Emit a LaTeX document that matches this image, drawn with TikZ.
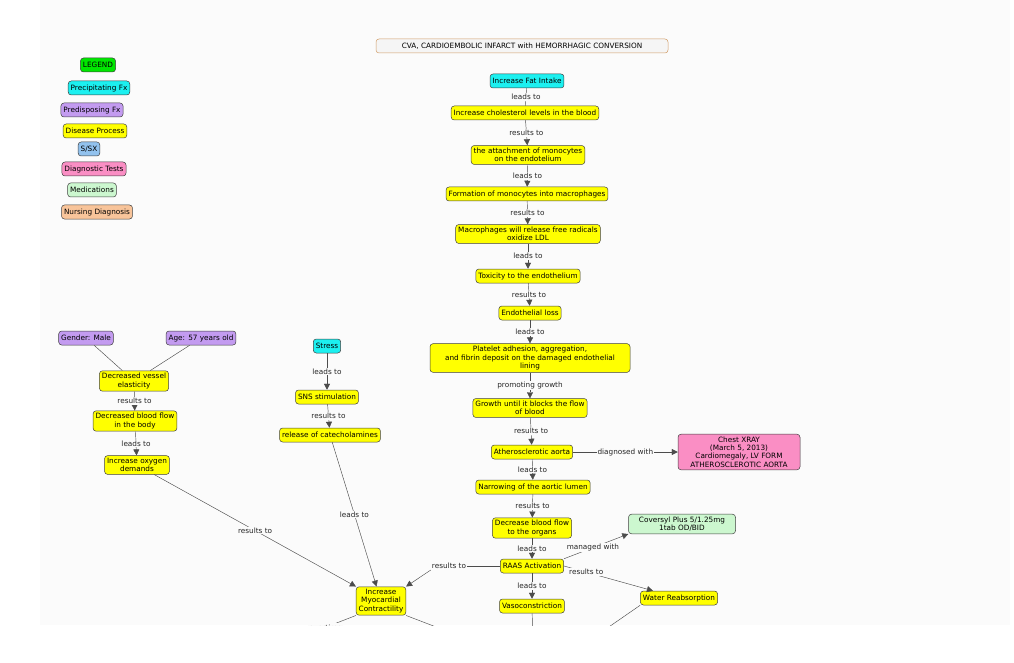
\documentclass[tikz,border=0pt]{standalone}
\usepackage{fontspec}
\setmainfont{DejaVu Sans}
\usetikzlibrary{arrows.meta}
\definecolor{bg}{HTML}{FBFBFB}
\definecolor{yel}{HTML}{FFFF00}
\definecolor{cyn}{HTML}{1CF0F0}
\definecolor{pur}{HTML}{C39BF0}
\definecolor{grn}{HTML}{00E600}
\definecolor{blu}{HTML}{92C2EE}
\definecolor{pnk}{HTML}{FA8EC4}
\definecolor{mgr}{HTML}{CCF7CF}
\definecolor{org}{HTML}{F8C49A}
\tikzset{
 box/.style={draw=black!75,rounded corners=3pt,font=\fontsize{7.3}{8.3}\selectfont,align=center,inner sep=2.5pt,minimum height=14pt,line width=0.5pt},
 dz/.style={box,fill=yel},
 lab/.style={fill=bg,font=\fontsize{7.3}{8.3}\selectfont,inner sep=1pt,text=black!85},
 ln/.style={draw=black!70,line width=0.45pt},
 ar/.style={ln,-{Triangle[length=6pt,width=6pt]}}
}
\begin{document}
\begin{tikzpicture}[x=1pt,y=-1pt]
\useasboundingbox (0,0) rectangle (1014,663);
\fill[white] (0,0) rectangle (1014,663);
\fill[bg] (40,0) rectangle (1010,625);
\begin{scope}
\clip (40,0) rectangle (1010,625);
\node[box,fill=black!4,draw=orange!70!black!60,minimum width=292pt] (title) at (522,46) {CVA, CARDIOEMBOLIC INFARCT with HEMORRHAGIC CONVERSION};
\node[box,fill=grn] (lg) at (98,65) {LEGEND};
\node[box,fill=cyn] (l1) at (99,88) {Precipitating Fx};
\node[box,fill=pur] (l2) at (92,110) {Predisposing Fx};
\node[box,fill=yel] (l3) at (95,131) {Disease Process};
\node[box,fill=blu] (l4) at (89,149) {S/SX};
\node[box,fill=pnk] (l5) at (94,169) {Diagnostic Tests};
\node[box,fill=mgr] (l6) at (92,190) {Medications};
\node[box,fill=org] (l7) at (97,212) {Nursing Diagnosis};
% main column
\node[box,fill=cyn] (fat) at (527,81) {Increase Fat Intake};
\node[dz] (chol) at (525,113) {Increase cholesterol levels in the blood};
\node[dz] (att) at (528,155) {the attachment of monocytes\\on the endotelium};
\node[dz] (form) at (527,194) {Formation of monocytes into macrophages};
\node[dz] (mac) at (528,234) {Macrophages will release free radicals\\oxidize LDL};
\node[dz] (tox) at (528,276) {Toxicity to the endothelium};
\node[dz] (endo) at (530,313) {Endothelial loss};
\node[dz,minimum width=200pt] (plat) at (530,358) {Platelet adhesion, aggregation,\\and fibrin deposit on the damaged endothelial\\lining};
\node[dz] (grow) at (530,408) {Growth until it blocks the flow\\of blood};
\node[dz] (aorta) at (532,452) {Atherosclerotic aorta};
\node[dz] (narr) at (533,487) {Narrowing of the aortic lumen};
\node[dz] (dec) at (532,528) {Decrease blood flow\\to the organs};
\node[dz] (raas) at (532,566) {RAAS Activation};
\node[dz] (vaso) at (532,606) {Vasoconstriction};
\node[box,fill=pnk,minimum width=122pt] (xray) at (739,452) {Chest XRAY\\(March 5, 2013)\\Cardiomegaly, LV FORM\\ATHEROSCLEROTIC AORTA};
\node[box,fill=mgr,minimum width=107pt] (cov) at (682,524) {Coversyl Plus 5/1.25mg\\1tab OD/BID};
\node[dz] (water) at (679,598) {Water Reabsorption};
% left
\node[box,fill=pur] (gen) at (86,338) {Gender: Male};
\node[box,fill=pur] (age) at (201,338) {Age: 57 years old};
\node[dz] (dve) at (134,381) {Decreased vessel\\elasticity};
\node[dz] (dbf) at (135,421) {Decreased blood flow\\in the body};
\node[dz] (iod) at (137,465) {Increase oxygen\\demands};
\node[box,fill=cyn] (str) at (327,346) {Stress};
\node[dz] (sns) at (327,397) {SNS stimulation};
\node[dz] (cat) at (330,435) {release of catecholamines};
\node[dz] (imc) at (381,601) {Increase\\Myocardial\\Contractility};
% edges
\draw[ln] (fat) -- node[lab]{leads to} (chol);
\draw[ar] (chol) -- node[lab]{results to} (att);
\draw[ar] (att) -- node[lab]{leads to} (form);
\draw[ar] (form) -- node[lab]{results to} (mac);
\draw[ar] (mac) -- node[lab]{leads to} (tox);
\draw[ar] (tox) -- node[lab]{results to} (endo);
\draw[ar] (endo) -- node[lab]{leads to} (plat);
\draw[ar] (plat) -- node[lab]{promoting growth} (grow);
\draw[ar] (grow) -- node[lab]{results to} (aorta);
\draw[ar] (aorta) -- node[lab]{leads to} (narr);
\draw[ar] (narr) -- node[lab]{results to} (dec);
\draw[ar] (dec) -- node[lab]{leads to} (raas);
\draw[ar] (raas) -- node[lab]{leads to} (vaso);
\draw[ar] (aorta) -- node[lab]{diagnosed with} (xray);
\draw[ar] (raas.north east) -- node[lab,pos=0.45]{managed with} (cov.south west);
\draw[ar] (raas.east) -- node[lab,pos=0.25]{results to} (water);
\node[lab] (rl) at (449,566) {results to};
\draw[ln] (raas.west) -- (rl.east);
\draw[ar] (rl.south west) -- (imc.north east);
\draw[ln] (gen) -- (dve);
\draw[ln] (age) -- (dve);
\draw[ar] (dve) -- node[lab]{results to} (dbf);
\draw[ar] (dbf) -- node[lab]{leads to} (iod);
\draw[ar] (str) -- node[lab]{leads to} (sns);
\draw[ar] (sns) -- node[lab]{results to} (cat);
\draw[ar] (cat) -- node[lab]{leads to} (imc);
\draw[ar] (iod) -- node[lab]{results to} (imc.north west);
% continuing off the bottom
\coordinate (o1) at (280,645);
\coordinate (o2) at (470,640);
\coordinate (o3) at (533,650);
\coordinate (o4) at (590,640);
\draw[ln] (imc.south west) -- node[lab,pos=0.4]{overtime} (o1);
\draw[ln] (imc.south east) -- (o2);
\draw[ln] (vaso) -- (o3);
\draw[ln] (water.south west) -- (o4);
\end{scope}
\end{tikzpicture}
\end{document}
